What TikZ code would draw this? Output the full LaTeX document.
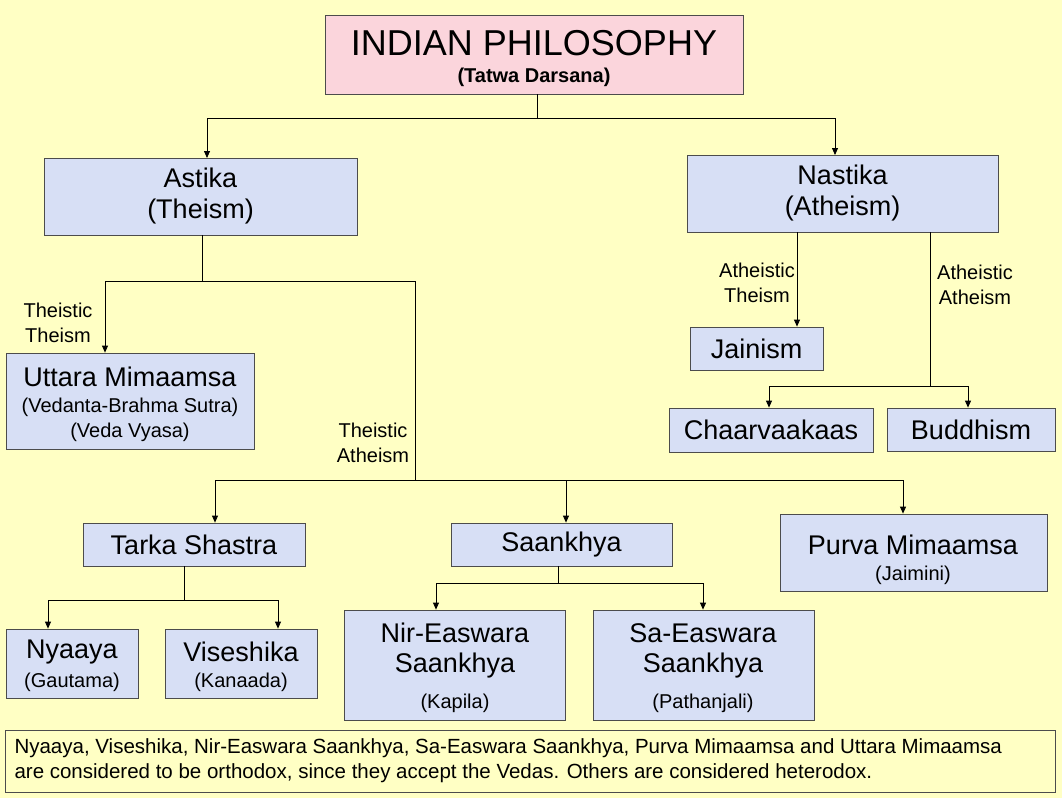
\documentclass[tikz,border=0pt]{standalone}
\usepackage{fontspec}
\setmainfont{Liberation Sans}
\usetikzlibrary{fit,arrows.meta}
\definecolor{bg}{HTML}{FFFFC4}
\definecolor{bx}{HTML}{D7DFF5}
\definecolor{pk}{HTML}{FBD5DC}
\tikzset{
 box/.style={draw=black!70, line width=0.8pt, fill=bx, inner sep=0pt},
 arr/.style={-{Triangle[length=7pt,width=6pt]}, line width=0.8pt},
 ln/.style={line width=0.8pt},
 lbl/.style={align=center, font=\fontsize{20}{25}\selectfont},
 big/.style={align=center, font=\fontsize{27}{31}\selectfont},
 sm/.style={font=\fontsize{20}{24}\selectfont}
}
\newcommand{\mybox}[6]{\node[box,#6,fit={(#2,#3) (#4,#5)}] (#1) {};}
\begin{document}
\begin{tikzpicture}[x=1pt,y=-1pt]
\fill[bg] (0,0) rectangle (1062,798);
\useasboundingbox (0,0) rectangle (1062,798);
\mybox{root}{325}{15}{743}{94}{fill=pk}
\node[font=\fontsize{36}{40}\selectfont] at (534,43) {INDIAN PHILOSOPHY};
\node[font=\fontsize{20}{24}\selectfont\bfseries] at (534,77) {(Tatwa Darsana)};
\mybox{astika}{44}{158}{357}{235}{}
\node[big] at (astika.center) {Astika\\(Theism)};
\mybox{nastika}{687}{155}{998}{232}{}
\node[big] at (nastika.center) {Nastika\\(Atheism)};
\mybox{uttara}{6}{353}{254}{449}{}
\node[big] at (130,377) {Uttara Mimaamsa};
\node[sm] at (130,407) {(Vedanta-Brahma Sutra)};
\node[sm] at (130,432) {(Veda Vyasa)};
\mybox{jain}{690}{327}{823}{370}{}
\node[big] at (jain.center) {Jainism};
\mybox{chaar}{669}{408}{873}{452}{}
\node[big] at (chaar.center) {Chaarvaakaas};
\mybox{budd}{887}{408}{1055}{451}{}
\node[big] at (budd.center) {Buddhism};
\mybox{tarka}{83}{523}{305}{566}{}
\node[big] at (tarka.center) {Tarka Shastra};
\mybox{saan}{451}{523}{672}{566}{}
\node[big] at (saan.center) {Saankhya};
\mybox{purva}{780}{514}{1047}{591}{}
\node[big] at (913,545) {Purva Mimaamsa};
\node[sm] at (913,575) {(Jaimini)};
\mybox{nyaaya}{6}{629}{138}{698}{}
\node[big] at (72,652) {Nyaaya};
\node[sm] at (72,682) {(Gautama)};
\mybox{vise}{165}{629}{317}{698}{}
\node[big] at (241,652) {Viseshika};
\node[sm] at (241,682) {(Kanaada)};
\mybox{nir}{344}{610}{565}{720}{}
\node[big] at (455,633) {Nir-Easwara};
\node[big] at (455,666) {Saankhya};
\node[sm] at (455,703) {(Kapila)};
\mybox{sa}{593}{610}{814}{720}{}
\node[big] at (703,633) {Sa-Easwara};
\node[big] at (703,666) {Saankhya};
\node[sm] at (703,703) {(Pathanjali)};
\node[draw=black!70, line width=0.8pt, fill=bg, inner sep=0pt, fit={(5,730) (1055,792)}] (note) {};
\node[align=left, anchor=west, font=\fontsize{20.5}{25}\selectfont] at (11,761) {Nyaaya, Viseshika, Nir-Easwara Saankhya, Sa-Easwara Saankhya, Purva Mimaamsa and Uttara Mimaamsa\\are considered to be orthodox, since they accept the Vedas. Others are considered heterodox.};
% root connectors
\draw[ln] (root.south -| 537,0) -- (537,118) coordinate (r1);
\draw[arr] (207,118) -- (207,158);
\draw[ln] (207,118) -- (835,118);
\draw[arr] (835,118) -- (835,155);
% astika
\draw[ln] (astika.south -| 202,0) -- (202,281) coordinate (a1);
\draw[ln] (105,281) -- (415,281) -- (415,480);
\draw[arr] (105,281) -- (uttara.north -| 105,0);
\draw[ln] (215,480) -- (903,480);
\draw[arr] (215,480) -- (tarka.north -| 215,0);
\draw[arr] (566,480) -- (saan.north -| 566,0);
\draw[arr] (903,480) -- (purva.north -| 903,0);
% nastika
\draw[arr] (nastika.south -| 797,0) -- (jain.north -| 797,0);
\draw[ln] (nastika.south -| 930,0) -- (930,386);
\draw[ln] (769,386) -- (968,386);
\draw[arr] (769,386) -- (chaar.north -| 769,0);
\draw[arr] (968,386) -- (budd.north -| 968,0);
% tarka
\draw[ln] (tarka.south -| 184,0) -- (184,600);
\draw[ln] (48,600) -- (278,600);
\draw[arr] (48,600) -- (nyaaya.north -| 48,0);
\draw[arr] (278,600) -- (vise.north -| 278,0);
% saankhya
\draw[ln] (saan.south -| 558,0) -- (558,583);
\draw[ln] (436,583) -- (703,583);
\draw[arr] (436,583) -- (nir.north -| 436,0);
\draw[arr] (703,583) -- (sa.north -| 703,0);
% labels
\node[lbl] (l1) at (58,323) {Theistic\\Theism};
\node[lbl] (l2) at (373,443) {Theistic\\Atheism};
\node[lbl] (l3) at (757,283) {Atheistic\\Theism};
\node[lbl] (l4) at (975,285) {Atheistic\\Atheism};
\end{tikzpicture}
\end{document}
